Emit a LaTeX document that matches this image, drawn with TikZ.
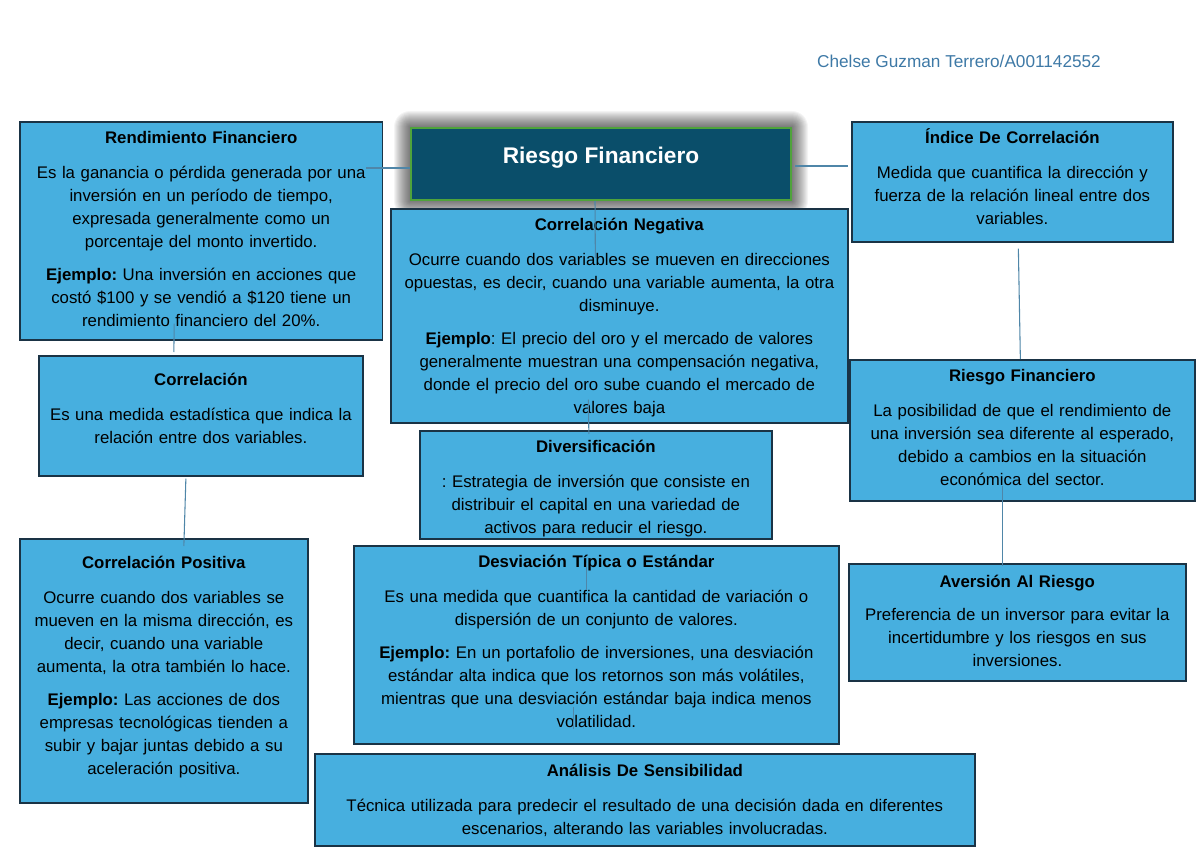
\documentclass[tikz,border=0pt]{standalone}
\usepackage{fontspec}
\setmainfont{Liberation Sans}
\usepackage{tikz}
\usetikzlibrary{positioning,calc,backgrounds}
\frenchspacing

\definecolor{cajaazul}{HTML}{47AFDF}
\definecolor{bordeazul}{HTML}{1A3345}
\definecolor{centroazul}{HTML}{0A4E6A}
\definecolor{centroverde}{HTML}{4FA33B}
\definecolor{lineaazul}{HTML}{4F86A8}
\definecolor{autorazul}{HTML}{3E79A6}

\newcommand{\titulo}[1]{\textbf{\vphantom{Í}#1}}

\begin{document}
\begin{tikzpicture}[x=0.75pt,y=-0.75pt,
  caja/.style={draw=bordeazul, line width=1.3pt, fill=cajaazul, anchor=north west, inner sep=0pt},
  texto/.style={anchor=north, align=center, inner sep=0pt, font=\fontsize{12.6}{17.25}\selectfont},
  link/.style={draw=lineaazul, line width=0.8pt}]
\useasboundingbox (0,0) rectangle (1200,849);

% Autor
\node[font=\fontsize{12.9}{15}\selectfont, text=autorazul] (autor) at (959,61) {Chelse Guzman Terrero/A001142552};

% Cajas
\node[caja, minimum width=272pt, minimum height=163.5pt] (rend) at (19,121) {};
\node[caja, draw=centroverde, line width=1.5pt, fill=centroazul, minimum width=285pt, minimum height=54pt] (central) at (410,127) {};
\node[caja, minimum width=240.75pt, minimum height=90pt] (indice) at (851,121) {};
\node[caja, minimum width=342.75pt, minimum height=160.5pt] (cneg) at (390,208) {};
\node[caja, minimum width=243pt, minimum height=90pt] (corr) at (38,355) {};
\node[caja, minimum width=258.75pt, minimum height=105.75pt] (riesgo) at (849,359) {};
\node[caja, minimum width=264pt, minimum height=81pt] (div) at (419,430) {};
\node[caja, minimum width=216pt, minimum height=198pt] (corrpos) at (19,538) {};
\node[caja, minimum width=363.75pt, minimum height=148.5pt] (desv) at (353,545) {};
\node[caja, minimum width=252.75pt, minimum height=87.75pt] (aver) at (848,563) {};
\node[caja, minimum width=495pt, minimum height=69pt] (anal) at (314,753) {};

% Sombra difusa de la caja central
\begin{scope}[on background layer]
\foreach \d in {1,...,16}
  \fill[black, opacity=0.045, rounded corners=\d*0.75pt]
    ($(central.north west)+(-\d,-\d)$) rectangle ($(central.south east)+(\d,\d)$);
\end{scope}

% Textos
\node[font=\fontsize{17}{20}\selectfont\bfseries, text=white] (centraltxt) at ($(central.center)+(0,-6)$) {Riesgo Financiero};

\node[texto, text width=270pt] (rendtxt) at ($(rend.north)+(0,7)$) {\titulo{Rendimiento Financiero}\\[9pt]
  Es la ganancia o pérdida generada por una\\ inversión en un período de tiempo,\\ expresada generalmente como un\\ porcentaje del monto invertido.\\[7.5pt]
  \textbf{Ejemplo:} Una inversión en acciones que\\ costó \$100 y se vendió a \$120 tiene un\\ rendimiento financiero del 20\%.};

\node[texto, text width=238pt] (indicetxt) at ($(indice.north)+(0,7)$) {\titulo{Índice De Correlación}\\[9pt]
  Medida que cuantifica la dirección y\\ fuerza de la relación lineal entre dos\\ variables.};

\node[texto, text width=340pt] (cnegtxt) at ($(cneg.north)+(0,7)$) {\titulo{Correlación Negativa}\\[9pt]
  Ocurre cuando dos variables se mueven en direcciones\\ opuestas, es decir, cuando una variable aumenta, la otra\\ disminuye.\\[7.5pt]
  \textbf{Ejemplo}: El precio del oro y el mercado de valores\\ generalmente muestran una compensación negativa,\\ donde el precio del oro sube cuando el mercado de\\ valores baja};

\node[texto, text width=240pt] (corrtxt) at ($(corr.north)+(0,15)$) {\titulo{Correlación}\\[9pt]
  Es una medida estadística que indica la\\ relación entre dos variables.};

\node[texto, text width=256pt] (riesgotxt) at ($(riesgo.north)+(0,7)$) {\titulo{Riesgo Financiero}\\[9pt]
  La posibilidad de que el rendimiento de\\ una inversión sea diferente al esperado,\\ debido a cambios en la situación\\ económica del sector.};

\node[texto, text width=262pt] (divtxt) at ($(div.north)+(0,7)$) {\titulo{Diversificación}\\[9.5pt]
  : Estrategia de inversión que consiste en\\ distribuir el capital en una variedad de\\ activos para reducir el riesgo.};

\node[texto, text width=214pt] (corrpostxt) at ($(corrpos.north)+(0,15)$) {\titulo{Correlación Positiva}\\[9pt]
  Ocurre cuando dos variables se\\ mueven en la misma dirección, es\\ decir, cuando una variable\\ aumenta, la otra también lo hace.\\[7.5pt]
  \textbf{Ejemplo:} Las acciones de dos\\ empresas tecnológicas tienden a\\ subir y bajar juntas debido a su\\ aceleración positiva.};

\node[texto, text width=361pt] (desvtxt) at ($(desv.north)+(0,7)$) {\titulo{Desviación Típica o Estándar}\\[9pt]
  Es una medida que cuantifica la cantidad de variación o\\ dispersión de un conjunto de valores.\\[7.5pt]
  \textbf{Ejemplo:} En un portafolio de inversiones, una desviación\\ estándar alta indica que los retornos son más volátiles,\\ mientras que una desviación estándar baja indica menos\\ volatilidad.};

\node[texto, text width=250pt] (avertxt) at ($(aver.north)+(0,9)$) {\titulo{Aversión Al Riesgo}\\[7.5pt]
  Preferencia de un inversor para evitar la\\ incertidumbre y los riesgos en sus\\ inversiones.};

\node[texto, text width=493pt] (analtxt) at ($(anal.north)+(0,8)$) {\titulo{Análisis De Sensibilidad}\\[9pt]
  Técnica utilizada para predecir el resultado de una decisión dada en diferentes\\ escenarios, alterando las variables involucradas.};

% Conectores
\draw[link] ($(central.west)+(0,4)$) -- ($(rend.north east)+(-17,47)$);
\draw[link] ($(central.east)+(3,2)$) -- ($(indice.north west)+(-3,45)$);
\draw[link] ($(central.south)+(-6,0)$) -- ($(cneg.north)+(-24,50)$);
\draw[link] ($(rend.south)+(-27,-17)$) -- ($(corr.north)+(-27,-3)$);
\draw[link] ($(corr.south)+(-15,2)$) -- ($(corrpos.north)+(20,8)$);
\draw[link] ($(cneg.south)+(-31,-24)$) -- ($(div.north)+(-7,4)$);
\draw[link] ($(desv.north)+(-10,18)$) -- ($(desv.north)+(-10,45)$);
\draw[link] ($(desv.south)+(-23,-38)$) -- ($(desv.south)+(-23,-16)$);
\draw[link] ($(indice.south)+(6,6)$) -- ($(riesgo.north)+(-2,0)$);
\draw[link] ($(riesgo.south)+(-20,-16)$) -- ($(aver.north)+(-15,3)$);
\end{tikzpicture}
\end{document}
